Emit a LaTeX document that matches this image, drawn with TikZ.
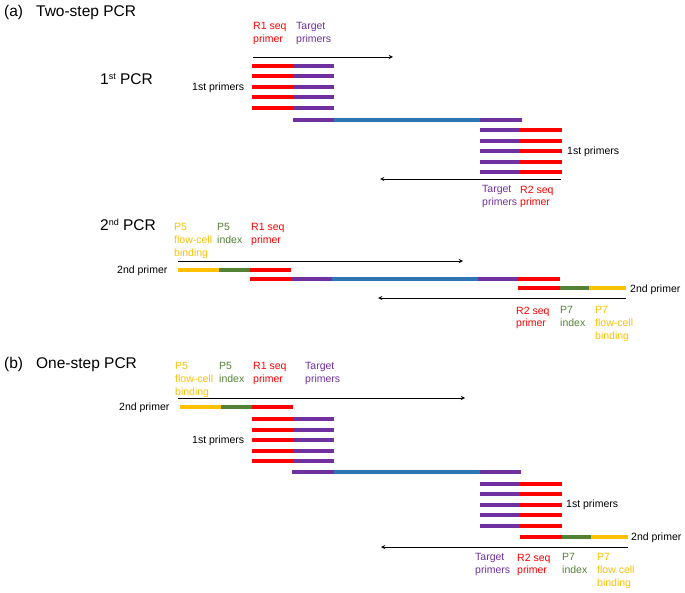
\documentclass[tikz,border=0pt]{standalone}
\usepackage{fontspec}
\setmainfont{Liberation Sans}
\usetikzlibrary{arrows}
\definecolor{seqRed}{RGB}{255,0,0}
\definecolor{tgtPurple}{RGB}{112,48,160}
\definecolor{dnaBlue}{RGB}{46,117,182}
\definecolor{idxGreen}{RGB}{83,129,53}
\definecolor{fcYellow}{RGB}{255,192,0}
\tikzstyle{bar} = [line width=4pt]
\tikzstyle{arrow} = [line width=0.9pt,->,>=stealth]
\tikzstyle{titleNode} = [anchor=base west, inner sep=0pt, font=\fontsize{15.5}{18}\selectfont]
\tikzstyle{lblNode} = [anchor=north west, inner sep=0pt, align=left, font=\fontsize{10.5}{12.8}\selectfont]
\tikzstyle{sideNode} = [anchor=base west, inner sep=0pt, font=\fontsize{10.5}{12.8}\selectfont]
\newcommand{\ordsup}[1]{\raisebox{5pt}{\fontsize{9}{9}\selectfont #1}}

\begin{document}
\begin{tikzpicture}[x=1pt,y=-1pt]
        \useasboundingbox (0,0) rectangle (685,593);

        % (a) two-step, 1st PCR
        \node (titleA) [titleNode] at (4,17) {(a)\hspace{13pt}Two-step PCR};
        \node (pcrOne) [titleNode] at (100,85) {1\ordsup{st} PCR};
        \node (r1A) [lblNode, text=seqRed] at (253,22) {R1 seq\\primer};
        \node (tgtA) [lblNode, text=tgtPurple] at (296,22) {Target\\primers};
        \node (firstA) [sideNode] at (192,90.5) {1st primers};
        \node (firstAr) [sideNode] at (567,154.5) {1st primers};
        \node (tgtAr) [lblNode, text=tgtPurple] at (482,185.5) {Target\\primers};
        \node (r2A) [lblNode, text=seqRed] at (520,185.5) {R2 seq\\primer};

        \foreach \y in {66,76.4,86.8,97.2,107.6} {
            \draw [bar, seqRed] (252,\y) -- (293,\y);
            \draw [bar, tgtPurple] (293,\y) -- (334,\y);
        }
        \draw [bar, tgtPurple] (293,120) -- (334,120);
        \draw [bar, dnaBlue] (334,120) -- (480,120);
        \draw [bar, tgtPurple] (480,120) -- (522,120);
        \foreach \y in {130.4,140.9,151.4,161.9,172.4} {
            \draw [bar, tgtPurple] (480,\y) -- (520,\y);
            \draw [bar, seqRed] (520,\y) -- (562,\y);
        }
        \coordinate (fwdAs) at (253,57);
        \coordinate (fwdAe) at (393,57);
        \coordinate (revAs) at (561,179);
        \coordinate (revAe) at (380,179);
        \draw [arrow] (fwdAs) -- (fwdAe);
        \draw [arrow] (revAs) -- (revAe);

        % (a) 2nd PCR
        \node (pcrTwo) [titleNode] at (100,231) {2\ordsup{nd} PCR};
        \node (p5fcA) [lblNode, text=fcYellow] at (174,223.5) {P5\\flow-cell\\binding};
        \node (p5idxA) [lblNode, text=idxGreen] at (217,223.5) {P5\\index};
        \node (r1B) [lblNode, text=seqRed] at (251,223.5) {R1 seq\\primer};
        \node (secA) [sideNode] at (117,273.5) {2nd primer};
        \node (secAr) [sideNode] at (630,292.5) {2nd primer};
        \node (r2B) [lblNode, text=seqRed] at (516,306.5) {R2 seq\\primer};
        \node (p7idxA) [lblNode, text=idxGreen] at (560,306.5) {P7\\index};
        \node (p7fcA) [lblNode, text=fcYellow] at (595,306.5) {P7\\flow-cell\\binding};

        \draw [bar, fcYellow] (178,270) -- (219,270);
        \draw [bar, idxGreen] (219,270) -- (250,270);
        \draw [bar, seqRed] (250,270) -- (291,270);
        \draw [bar, seqRed] (250,279) -- (291,279);
        \draw [bar, tgtPurple] (291,279) -- (332,279);
        \draw [bar, dnaBlue] (332,279) -- (478,279);
        \draw [bar, tgtPurple] (478,279) -- (517,279);
        \draw [bar, seqRed] (517,279) -- (560,279);
        \draw [bar, seqRed] (518,288.5) -- (560,288.5);
        \draw [bar, idxGreen] (560,288.5) -- (589,288.5);
        \draw [bar, fcYellow] (589,288.5) -- (626,288.5);
        \coordinate (fwdBs) at (178,261);
        \coordinate (fwdBe) at (463,261);
        \coordinate (revBs) at (626,298);
        \coordinate (revBe) at (378,298);
        \draw [arrow] (fwdBs) -- (fwdBe);
        \draw [arrow] (revBs) -- (revBe);

        % (b) one-step PCR
        \node (titleB) [titleNode] at (4,368) {(b)\hspace{13pt}One-step PCR};
        \node (p5fcB) [lblNode, text=fcYellow] at (175,362) {P5\\flow-cell\\binding};
        \node (p5idxB) [lblNode, text=idxGreen] at (219,362) {P5\\index};
        \node (r1C) [lblNode, text=seqRed] at (253,362) {R1 seq\\primer};
        \node (tgtB) [lblNode, text=tgtPurple] at (305,362) {Target\\primers};
        \node (secB) [sideNode] at (119,410.5) {2nd primer};
        \node (firstB) [sideNode] at (192,443.5) {1st primers};
        \node (firstBr) [sideNode] at (566,507) {1st primers};
        \node (secBr) [sideNode] at (631,540.5) {2nd primer};
        \node (tgtBr) [lblNode, text=tgtPurple] at (475,553.5) {Target\\primers};
        \node (r2C) [lblNode, text=seqRed] at (517,553.5) {R2 seq\\primer};
        \node (p7idxB) [lblNode, text=idxGreen] at (562,553.5) {P7\\index};
        \node (p7fcB) [lblNode, text=fcYellow] at (597,553.5) {P7\\flow cell\\binding};

        \draw [bar, fcYellow] (180,407) -- (221,407);
        \draw [bar, idxGreen] (221,407) -- (252,407);
        \draw [bar, seqRed] (252,407) -- (293,407);
        \foreach \y in {419,429.5,440,450.5,461} {
            \draw [bar, seqRed] (252,\y) -- (293,\y);
            \draw [bar, tgtPurple] (293,\y) -- (334,\y);
        }
        \draw [bar, tgtPurple] (292,472) -- (334,472);
        \draw [bar, dnaBlue] (334,472) -- (480,472);
        \draw [bar, tgtPurple] (480,472) -- (521,472);
        \foreach \y in {483.5,494,504.5,515,525.5} {
            \draw [bar, tgtPurple] (480,\y) -- (520,\y);
            \draw [bar, seqRed] (520,\y) -- (562,\y);
        }
        \draw [bar, seqRed] (520,536.5) -- (562,536.5);
        \draw [bar, idxGreen] (562,536.5) -- (591,536.5);
        \draw [bar, fcYellow] (591,536.5) -- (628,536.5);
        \coordinate (fwdCs) at (178,398);
        \coordinate (fwdCe) at (465,398);
        \coordinate (revCs) at (628,547);
        \coordinate (revCe) at (381,547);
        \draw [arrow] (fwdCs) -- (fwdCe);
        \draw [arrow] (revCs) -- (revCe);
    \end{tikzpicture}
\end{document}
